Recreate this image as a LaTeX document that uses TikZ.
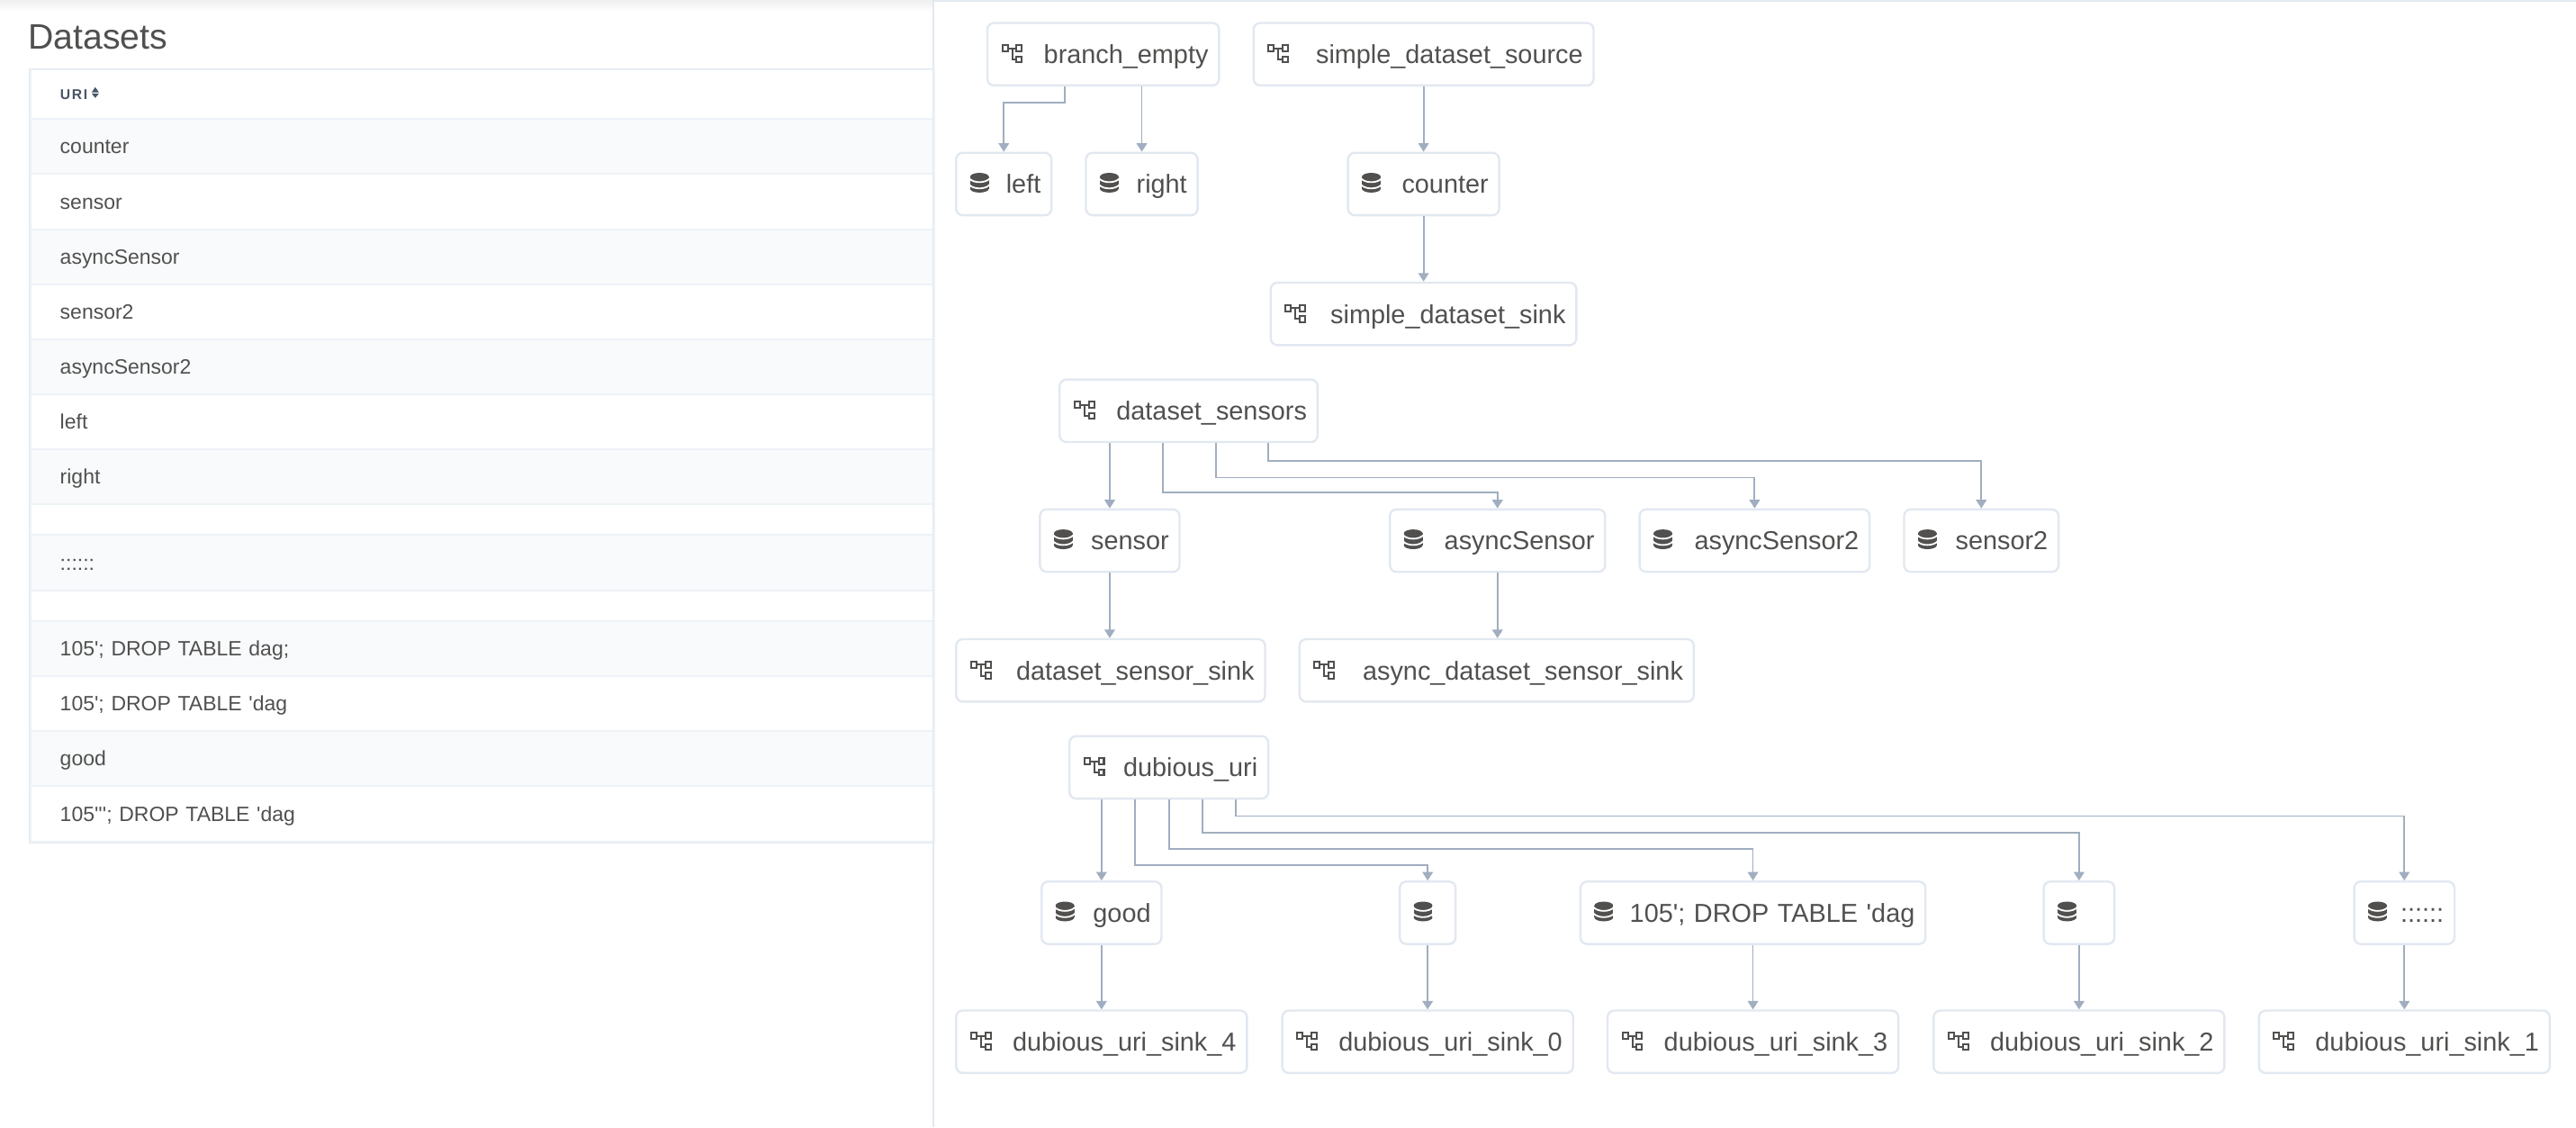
\documentclass[tikz,border=0pt]{standalone}
\usepackage{fontspec}
\usetikzlibrary{arrows.meta, positioning, calc}
\newfontfamily\uifont{Liberation Sans}
\newfontfamily\urifont{Liberation Sans}[LetterSpace=10]
\definecolor{textdark}{HTML}{51504F}
\definecolor{headslate}{HTML}{4A5568}
\definecolor{boxgray}{HTML}{E2E8F0}
\definecolor{rowgray}{HTML}{EDF2F7}
\definecolor{stripegray}{HTML}{F8FAFC}
\definecolor{edgegray}{HTML}{A0AEC0}
\newcommand{\dagicon}{\hspace*{2pt}\tikz[baseline={(0,11.8)}, sharp corners, line width=1.1pt]{
    \path[use as bounding box] (0,0) rectangle (13,11.5);
    \draw[textdark] (0.55,0.55) rectangle (3.85,4.4);
    \draw[textdark] (9.25,0.55) rectangle (12.45,4.4);
    \draw[textdark] (9.25,7.6) rectangle (12.45,11);
    \draw[textdark] (3.85,2.5) -- (9.25,2.5);
    \draw[textdark] (6.6,2.5) -- (6.6,9.3) -- (9.25,9.3);
  }}
\newcommand{\dbicon}{\hspace*{2pt}\tikz[baseline={(0,12.5)}, sharp corners, line width=1pt]{
    \path[use as bounding box] (0,0) rectangle (11.4,12);
    \fill[textdark] (5.7,2.4) ellipse [x radius=5.7, y radius=2.4];
    \fill[textdark] (5.7,9.6) ellipse [x radius=5.7, y radius=2.4];
    \fill[textdark] (0,2.4) rectangle (11.4,9.6);
    \draw[white] (-0.5,3.4) .. controls (2,6.4) and (9.4,6.4) .. (11.9,3.4);
    \draw[white] (-0.5,7.2) .. controls (2,10.2) and (9.4,10.2) .. (11.9,7.2);
  }}
\tikzset{
  dagbox/.style={draw=boxgray, fill=white, line width=1.3pt, rounded corners=4pt, minimum width=#1, text width=#1-13pt, minimum height=38pt, inner xsep=6.5pt, inner ysep=0pt, text=textdark, text height=14.4pt, text depth=3pt, font=\uifont\fontsize{15.8}{18}\selectfont},
  tablerow/.style={draw=rowgray, line width=1.1pt, anchor=west, minimum width=550pt, text width=514pt, inner xsep=18pt, inner ysep=0pt, align=left, text=textdark, text height=10.8pt, text depth=2pt, font=\uifont\fontsize{12.6}{14}\selectfont},
  edgeline/.style={draw=edgegray, line width=1pt, -{Triangle[length=5.2pt, width=6.4pt]}}
}
\begin{document}
\begin{tikzpicture}[x=1pt, y=-1pt]
  \useasboundingbox (0,0) rectangle (1568,686);
  \fill[white] (0,0) rectangle (1568,686);

  % Top shadow and divider
  \shade[top color=black!6, bottom color=white] (0,0) rectangle (568,7);
  \draw[boxgray, line width=1pt] (568,0) -- (568,686);
  \draw[boxgray, line width=1pt] (568,0.5) -- (1568,0.5);

  % Datasets table
  \node[anchor=base west, inner sep=0pt, text=textdark, font=\uifont\fontsize{21.5}{24}\selectfont] (title) at (17,30) {Datasets};

  \node[tablerow, minimum height=30.5pt] (rowhead) at (18,57.25) {};
  \node[anchor=base west, inner sep=0pt, text=headslate, font=\urifont\fontsize{8.6}{10}\selectfont\bfseries] (urihead) at (36.5,60.6) {URI};
  \fill[headslate] (55.8,56.2) -- (60.2,56.2) -- (58,53) -- cycle;
  \fill[headslate] (55.8,56.9) -- (60.2,56.9) -- (58,59.6) -- cycle;

  \node[tablerow, fill=stripegray, minimum height=33.5pt] (rowcounter) at (18,89.25) {counter};
  \node[tablerow, minimum height=33.5pt] (rowsensor) at (18,122.75) {sensor};
  \node[tablerow, fill=stripegray, minimum height=33.5pt] (rowasync) at (18,156.25) {asyncSensor};
  \node[tablerow, minimum height=33.5pt] (rowsensortwo) at (18,189.75) {sensor2};
  \node[tablerow, fill=stripegray, minimum height=33.5pt] (rowasynctwo) at (18,223.25) {asyncSensor2};
  \node[tablerow, minimum height=33.5pt] (rowleft) at (18,256.75) {left};
  \node[tablerow, fill=stripegray, minimum height=33.5pt] (rowright) at (18,290.25) {right};
  \node[tablerow, minimum height=18.5pt] (rowblankone) at (18,316.25) {};
  \node[tablerow, fill=stripegray, minimum height=34pt] (rowcolons) at (18,342.5) {::::::};
  \node[tablerow, minimum height=18.5pt] (rowblanktwo) at (18,368.75) {};
  \node[tablerow, fill=stripegray, minimum height=33.5pt] (rowdropone) at (18,394.75) {105'; DROP TABLE dag;};
  \node[tablerow, minimum height=33.5pt] (rowdroptwo) at (18,428.25) {105'; DROP TABLE 'dag};
  \node[tablerow, fill=stripegray, minimum height=33.5pt] (rowgood) at (18,461.75) {good};
  \node[tablerow, minimum height=33.5pt] (rowdropthree) at (18,495.25) {105'''; DROP TABLE 'dag};
  \draw[boxgray, line width=0.8pt] (17.7,42) rectangle (568,513);

  % Branch and simple dataset
  \node[dagbox=141pt] (branchempty) at (671.5,33) {\dagicon\hfill branch\_empty};
  \node[dagbox=207pt] (simplesource) at (866.5,33) {\dagicon\hfill simple\_dataset\_source};
  \node[dagbox=58pt] (dsleft) at (611,112) {\dbicon\hfill left};
  \node[dagbox=68pt] (dsright) at (695,112) {\dbicon\hfill right};
  \node[dagbox=92pt] (dscounter) at (866.5,112) {\dbicon\hfill counter};
  \node[dagbox=186pt] (simplesink) at (866.5,191) {\dagicon\hfill simple\_dataset\_sink};

  \draw[edgeline] ([xshift=-23.5pt]branchempty.south) -- ++(0,10) -| (dsleft.north);
  \draw[edgeline] (dsright.north |- branchempty.south) -- (dsright.north);
  \draw[edgeline] (simplesource.south) -- (dscounter.north);
  \draw[edgeline] (dscounter.south) -- (simplesink.north);

  % Dataset sensors
  \node[dagbox=157pt] (dagsensors) at (723.5,250) {\dagicon\hfill dataset\_sensors};
  \node[dagbox=85pt] (dssensor) at (675.5,329) {\dbicon\hfill sensor};
  \node[dagbox=131pt] (dsasync) at (911.5,329) {\dbicon\hfill asyncSensor};
  \node[dagbox=140pt] (dsasynctwo) at (1068,329) {\dbicon\hfill asyncSensor2};
  \node[dagbox=94pt] (dssensortwo) at (1206,329) {\dbicon\hfill sensor2};
  \node[dagbox=188pt] (sensorsink) at (676,408) {\dagicon\hfill dataset\_sensor\_sink};
  \node[dagbox=240pt] (asyncsink) at (911,408) {\dagicon\hfill async\_dataset\_sensor\_sink};

  \draw[edgeline] (dssensor.north |- dagsensors.south) -- (dssensor.north);
  \draw[edgeline] ([xshift=-15.5pt]dagsensors.south) -- ++(0,30) -| (dsasync.north);
  \draw[edgeline] ([xshift=16.5pt]dagsensors.south) -- ++(0,21) -| (dsasynctwo.north);
  \draw[edgeline] ([xshift=48.5pt]dagsensors.south) -- ++(0,11) -| (dssensortwo.north);
  \draw[edgeline] (dssensor.south) -- (dssensor.south |- sensorsink.north);
  \draw[edgeline] (dsasync.south) -- (dsasync.south |- asyncsink.north);

  % Dubious uri
  \node[dagbox=121pt] (dubious) at (711.5,467) {\dagicon\hfill dubious\_uri};
  \node[dagbox=73pt] (dsgood) at (670.5,555.5) {\dbicon\hfill good};
  \node[dagbox=34pt] (dsblankone) at (869,555.5) {\dbicon};
  \node[dagbox=210pt] (dsdrop) at (1067,555.5) {\dbicon\hfill 105'; DROP TABLE 'dag};
  \node[dagbox=43pt] (dsblanktwo) at (1265.5,555.5) {\dbicon};
  \node[dagbox=61pt] (dscolons) at (1463.5,555.5) {\dbicon\hfill ::::::};
  \node[dagbox=177pt] (sinkfour) at (670.5,634) {\dagicon\hfill dubious\_uri\_sink\_4};
  \node[dagbox=177pt] (sinkzero) at (869,634) {\dagicon\hfill dubious\_uri\_sink\_0};
  \node[dagbox=177pt] (sinkthree) at (1067,634) {\dagicon\hfill dubious\_uri\_sink\_3};
  \node[dagbox=177pt] (sinktwo) at (1265.5,634) {\dagicon\hfill dubious\_uri\_sink\_2};
  \node[dagbox=177pt] (sinkone) at (1463.5,634) {\dagicon\hfill dubious\_uri\_sink\_1};

  \draw[edgeline] (dsgood.north |- dubious.south) -- (dsgood.north);
  \draw[edgeline] ([xshift=-20.5pt]dubious.south) -- ++(0,40) -| (dsblankone.north);
  \draw[edgeline] (dubious.south) -- ++(0,30) -| (dsdrop.north);
  \draw[edgeline] ([xshift=20.5pt]dubious.south) -- ++(0,20) -| (dsblanktwo.north);
  \draw[edgeline] ([xshift=40.5pt]dubious.south) -- ++(0,10) -| (dscolons.north);
  \draw[edgeline] (dsgood.south) -- (sinkfour.north);
  \draw[edgeline] (dsblankone.south) -- (sinkzero.north);
  \draw[edgeline] (dsdrop.south) -- (sinkthree.north);
  \draw[edgeline] (dsblanktwo.south) -- (sinktwo.north);
  \draw[edgeline] (dscolons.south) -- (sinkone.north);
\end{tikzpicture}
\end{document}
